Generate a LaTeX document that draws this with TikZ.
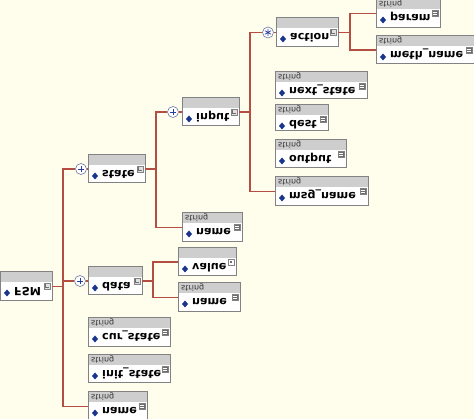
\documentclass[tikz,border=0pt]{standalone}
\usepackage{fontspec}
\setmainfont{DejaVu Sans}
\usetikzlibrary{calc}
\definecolor{bgc}{RGB}{255,254,236}
\definecolor{connc}{RGB}{180,78,66}
\definecolor{barc}{RGB}{206,206,206}
\definecolor{edgec}{RGB}{130,130,130}
\definecolor{diamc}{RGB}{24,52,140}
\definecolor{circc}{RGB}{110,120,160}
\definecolor{iconc}{RGB}{110,110,110}
\definecolor{plusc}{RGB}{40,60,170}

\tikzset{
  elem/.style={rectangle, fill=white, draw=none, inner sep=0pt, outer sep=0pt},
  nametext/.style={anchor=base west, inner sep=0pt, font=\bfseries\fontsize{11.2}{12}\selectfont},
  typetext/.style={anchor=base west, inner sep=0pt, font=\fontsize{8}{9}\selectfont, text=black!80},
  conn/.style={draw=connc, line width=1.1pt},
  circ/.style={circle, draw=circc, fill=white, minimum size=11pt, inner sep=0pt, line width=0.6pt},
  markline/.style={draw=plusc, line width=0.9pt}
}

\newcommand\iconS[2]{%
  \filldraw[fill=iconc, draw=edgec, line width=0.4pt] ({#1-8},{#2+11}) rectangle ({#1-2},{#2+17});
  \draw[white, line width=0.5pt] ({#1-7},{#2+13}) -- ({#1-3},{#2+13}) ({#1-7},{#2+15}) -- ({#1-3},{#2+15});}
\newcommand\iconC[2]{%
  \filldraw[fill=barc!60, draw=edgec, line width=0.4pt] ({#1-8},{#2+11}) rectangle ({#1-2},{#2+17});
  \draw[iconc, line width=0.6pt] ({#1-6.5},{#2+12.5}) -- ({#1-6.5},{#2+15.5}) -- ({#1-3.5},{#2+15.5});}
\newcommand\iconV[2]{%
  \filldraw[fill=white, draw=edgec, line width=0.4pt] ({#1-8},{#2+11}) rectangle ({#1-2},{#2+17});
  \fill[iconc] ({#1-6},{#2+13}) rectangle ({#1-4},{#2+15});}

% name x y w h text type icon
\newcommand\elbox[8]{%
  \node[elem, minimum width=#4pt, minimum height=#5pt, anchor=north west] (#1) at (#2,#3) {};
  \fill[barc] (#2,#3) rectangle ({#2+#4},{#3+10.5});
  \draw[edgec, line width=1pt] (#1.north west) rectangle (#1.south east);
  \fill[diamc] ({#2+4},{#3+21}) -- ({#2+7},{#3+17.5}) -- ({#2+10},{#3+21}) -- ({#2+7},{#3+24.5}) -- cycle;
  \node[nametext] (#1t) at ({#2+14},{#3+15.5}) {\scalebox{1}[-1]{#6}};
  \node[typetext] (#1s) at ({#2+3},{#3+2.5}) {\scalebox{1}[-1]{#7}};
  #8{#2+#4}{#3}}

\newcommand\plusmark[1]{%
  \draw[markline] ($(#1)+(-3,0)$) -- ($(#1)+(3,0)$) ($(#1)+(0,-3)$) -- ($(#1)+(0,3)$);}
\newcommand\starmark[1]{%
  \draw[markline, line width=0.7pt] ($(#1)+(90:3.5)$) -- ($(#1)+(270:3.5)$)
    ($(#1)+(30:3.5)$) -- ($(#1)+(210:3.5)$) ($(#1)+(150:3.5)$) -- ($(#1)+(330:3.5)$);}

\begin{document}
\begin{tikzpicture}[x=1pt, y=-1pt]
\useasboundingbox (0,0) rectangle (474,419);
\fill[bgc] (0,0) rectangle (474,419);

% trunks
\coordinate (tA) at (63,0);
\coordinate (tB) at (156,0);
\coordinate (tC) at (153,0);
\coordinate (tD) at (250,0);
\coordinate (tE) at (350,0);

\elbox{fsm}{0}{272}{52}{29}{FSM}{}{\iconC}
\elbox{state}{88}{155}{57}{28}{state}{}{\iconC}
\elbox{data}{88}{267}{54}{28}{data}{}{\iconC}
\elbox{curst}{88}{318}{82}{29}{cur\_state}{string}{\iconS}
\elbox{initst}{88}{355}{82}{28}{init\_state}{string}{\iconS}
\elbox{nmA}{88}{392}{59}{29}{name}{string}{\iconS}
\elbox{input}{182}{98}{57}{28}{input}{}{\iconC}
\elbox{nmB}{182}{213}{60}{29}{name}{string}{\iconS}
\elbox{value}{178}{248}{58}{28}{value}{}{\iconV}
\elbox{nmC}{178}{283}{62}{29}{name}{string}{\iconS}
\elbox{action}{276}{18}{62}{29}{action}{}{\iconC}
\elbox{nexts}{275}{72}{92}{27}{next\_state}{string}{\iconS}
\elbox{dest}{275}{105}{53}{26}{dest}{string}{\iconS}
\elbox{output}{275}{140}{71}{28}{output}{string}{\iconS}
\elbox{msgn}{275}{177}{93}{29}{msg\_name}{string}{\iconS}
\elbox{param}{376}{-1}{64}{29}{param}{string}{\iconS}
\elbox{methn}{376}{36}{98}{28}{meth\_name}{string}{\iconS}

\node[circ] (cState) at (81,169) {};
\node[circ] (cData) at (80,281) {};
\node[circ] (cInput) at (173,112) {};
\node[circ] (cAction) at (268,32.5) {};
\plusmark{cState}
\plusmark{cData}
\plusmark{cInput}
\starmark{cAction}

% connectors
\draw[conn] (fsm.east) -- (fsm.east -| tA);
\draw[conn] (cState.west) -- (cState.west -| tA) |- (nmA.west);
\draw[conn] (cData.west) -- (cData.west -| tA);
\draw[conn] (cState) -- (state);
\draw[conn] (cData) -- (data);

\draw[conn] (state.east) -- (state.east -| tB);
\draw[conn] (cInput.west) -- (cInput.west -| tB) |- (nmB.west);
\draw[conn] (cInput) -- (input);

\draw[conn] (data.east) -- (data.east -| tC);
\draw[conn] (value.west) -- (value.west -| tC) |- (nmC.west);

\draw[conn] (input.east) -- (input.east -| tD);
\draw[conn] (cAction.west) -- (cAction.west -| tD) |- (msgn.west);
\draw[conn] (cAction) -- (action);

\draw[conn] (action.east) -- (action.east -| tE);
\draw[conn] (param.west) -- (param.west -| tE) |- (methn.west);
\end{tikzpicture}
\end{document}
